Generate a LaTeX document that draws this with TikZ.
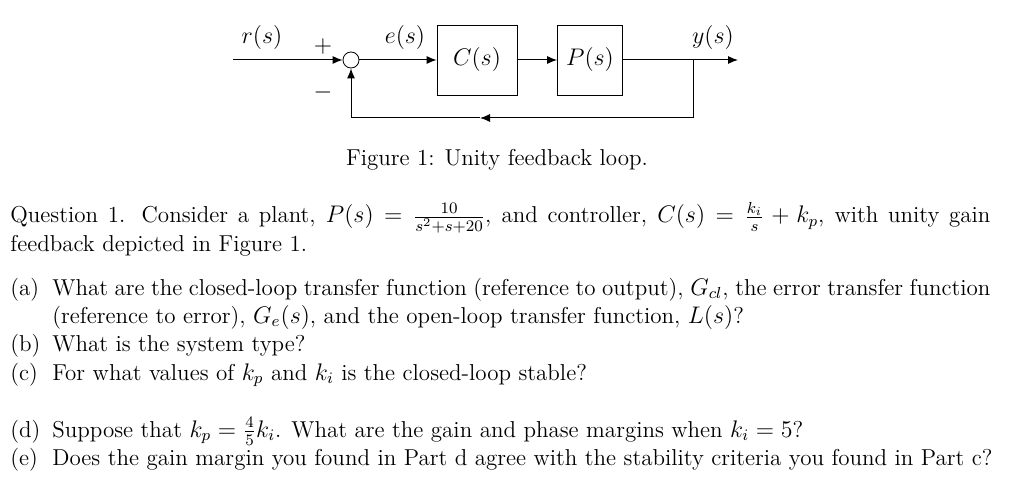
\documentclass[tikz,border=0pt]{standalone}
\usetikzlibrary{arrows.meta}
\begin{document}
\begin{tikzpicture}[x=0.5pt,y=-0.5pt,font=\fontsize{11.5}{14}\selectfont,
  blk/.style={draw,minimum width=40pt,minimum height=35pt,inner sep=0pt},
  sig/.style={-{Latex[length=5pt,width=4pt]},line width=0.5pt},
  txt/.style={anchor=base west,inner sep=0pt}]
\useasboundingbox (0,0) rectangle (1024,481);
\coordinate (in) at (233,60);
\node[draw,circle,minimum size=8pt,inner sep=0pt] (sum) at (351,60) {};
\node[blk] (C) at (477,60) {$C(s)$};
\node[blk,minimum width=32.5pt] (P) at (590,60) {$P(s)$};
\coordinate (br) at (693,60);
\coordinate (out) at (738,60);
\coordinate (bl) at (693,118);
\coordinate (mid) at (480,118);
\coordinate (bs) at (351,118);
\draw[sig] (in) -- (sum);
\draw[sig] (sum) -- (C);
\draw[sig] (C) -- (P);
\draw[sig] (P) -- (out);
\draw[sig] (br) -- (bl) -- (mid);
\draw[sig] (mid) -- (bs) -- (sum);
\node (r) at (262,38) {$r(s)$};
\node (pl) at (323,47) {$+$};
\node (e) at (405,38) {$e(s)$};
\node (y) at (713,38) {$y(s)$};
\node (mi) at (323,93) {$-$};
\node (cap) at (497,160) {Figure 1: Unity feedback loop.};
\node[txt,text width=490pt,align=justify] (q) at (10,223) {Question 1. Consider a plant, $P(s)=\frac{10}{s^2+s+20}$, and controller, $C(s)=\frac{k_i}{s}+k_p$, with unity gain\linebreak feedback depicted in Figure 1.};
\node[txt] (la) at (10,295) {(a)};
\node[txt,text width=469pt,align=justify] (ta) at (52,295) {What are the closed-loop transfer function (reference to output), $G_{cl}$, the error transfer function\linebreak (reference to error), $G_e(s)$, and the open-loop transfer function, $L(s)$?};
\node[txt] (lb) at (10,351) {(b)};
\node[txt] (tb) at (52,351) {What is the system type?};
\node[txt] (lc) at (10,380) {(c)};
\node[txt] (tc) at (52,380) {For what values of $k_p$ and $k_i$ is the closed-loop stable?};
\node[txt] (ld) at (10,437) {(d)};
\node[txt] (td) at (52,437) {Suppose that $k_p=\frac{4}{5}k_i$. What are the gain and phase margins when $k_i=5$?};
\node[txt] (le) at (10,465) {(e)};
\node[txt] (te) at (52,465) {Does the gain margin you found in Part d agree with the stability criteria you found in Part c?};
\end{tikzpicture}
\end{document}
